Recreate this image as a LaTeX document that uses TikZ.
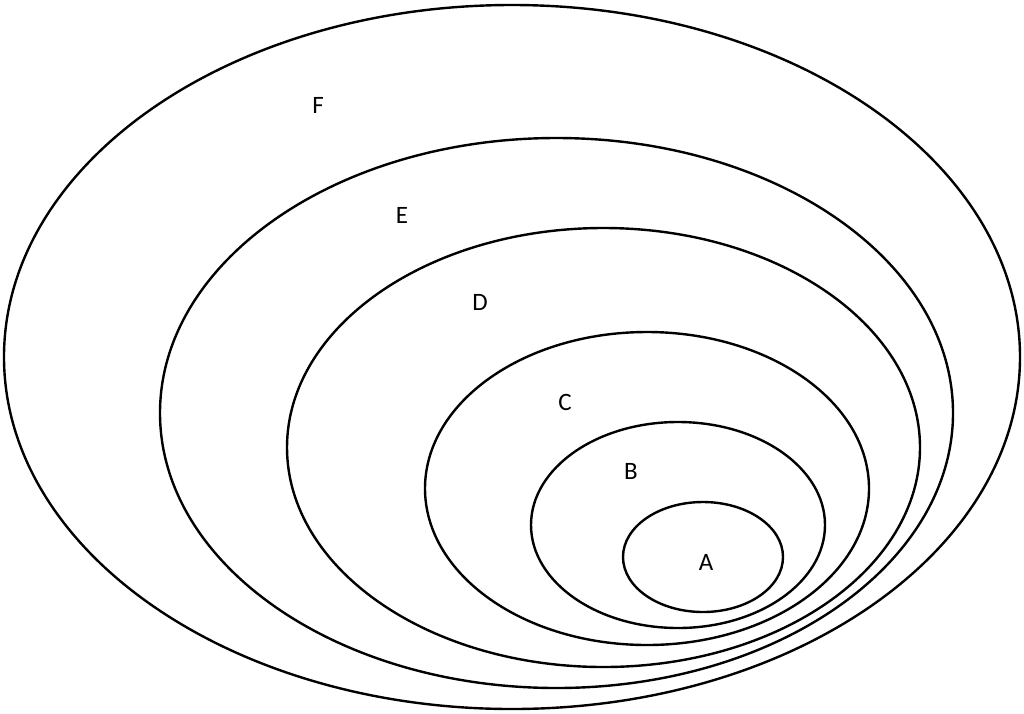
\documentclass[tikz,border=0pt]{standalone}
\usepackage{fontspec}
\setmainfont{Carlito}
\begin{document}
\begin{tikzpicture}[x=1pt,y=-1pt,ring/.style={draw=black,line width=2.4pt},lab/.style={font=\fontsize{25}{28}\selectfont}]
\useasboundingbox (0,0) rectangle (1024,713);
\draw[ring] (512,357) ellipse [x radius=508,y radius=352];
\draw[ring] (556.5,413) ellipse [x radius=396.5,y radius=275];
\draw[ring] (603.5,447.5) ellipse [x radius=316.5,y radius=219.5];
\draw[ring] (647,488.5) ellipse [x radius=222,y radius=156.5];
\draw[ring] (678,525) ellipse [x radius=147,y radius=103];
\draw[ring] (703,557) ellipse [x radius=80,y radius=55];
\node[lab] (F) at (318,105) {F};
\node[lab] (E) at (402,215) {E};
\node[lab] (D) at (480,302) {D};
\node[lab] (C) at (565,402) {C};
\node[lab] (B) at (631,471) {B};
\node[lab] (A) at (706,562) {A};
\end{tikzpicture}
\end{document}
